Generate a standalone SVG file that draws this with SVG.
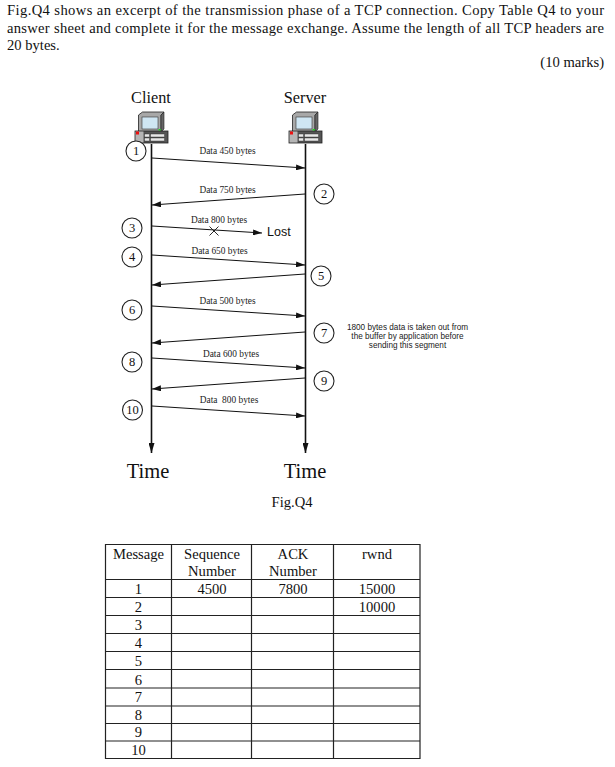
<svg xmlns="http://www.w3.org/2000/svg" xmlns:xlink="http://www.w3.org/1999/xlink" width="615" height="767" viewBox="0 0 615 767">
<style>
text{font-family:"Liberation Serif","Times New Roman",serif;fill:#111}
.body{font-size:14.6px}
.head{font-size:16.3px;text-anchor:middle}
.big{font-size:20.5px;text-anchor:middle}
.lab{font-size:9.4px;text-anchor:middle;fill:#222}
.num{font-size:12.5px;text-anchor:middle}
.cell{font-size:14.6px;text-anchor:middle}
.sans{font-family:"Liberation Sans",Arial,sans-serif}
.note{font-size:8.2px;text-anchor:middle;fill:#222}
.msg{stroke:#111;stroke-width:1;fill:none;marker-end:url(#ah)}
.life{stroke:#111;stroke-width:1.6;fill:none;marker-end:url(#ahl)}
.ring{fill:#fff;stroke:#222;stroke-width:1.1}
.grid{stroke:#222;stroke-width:1.2;fill:none}
</style>
<defs>
<marker id="ah" markerUnits="userSpaceOnUse" markerWidth="9" markerHeight="6" refX="9" refY="3" orient="auto"><path d="M0 0L9 3L0 6Z" fill="#111"/></marker>
<marker id="ahl" markerUnits="userSpaceOnUse" markerWidth="10" markerHeight="6" refX="10" refY="3" orient="auto"><path d="M0 0L10 3L0 6Z" fill="#111"/></marker>
<g id="pc">
<path d="M-13 -29L-9 -32H12.500L9.500 -29V-12H-13Z" fill="#a8a8a8" stroke="#222" stroke-width=".8"/>
<path d="M9.500 -29L12.500 -32V-15L9.500 -12Z" fill="#666" stroke="#222" stroke-width=".6"/>
<rect x="-9.500" y="-27" width="16" height="12" fill="#cfe6f3" stroke="#333" stroke-width=".6"/>
<rect x="-16.500" y="-13" width="33" height="12" fill="#555" stroke="#222" stroke-width=".8"/>
<rect x="-16" y="-12.500" width="8" height="11" fill="#b5b5b5"/>
<rect x="-15.500" y="-12.500" width="3" height="3" fill="#e11"/>
<rect x="7" y="-15" width="2.500" height="1.500" fill="#2c2"/>
<rect x="-7" y="-10" width="5" height="3" fill="#e8e8e8" stroke="#222" stroke-width=".4"/>
<rect x="-7" y="-6" width="5" height="3" fill="#e8e8e8" stroke="#222" stroke-width=".4"/>
<rect x="-1" y="-10" width="14" height="3" fill="#e8e8e8" stroke="#222" stroke-width=".4"/>
<rect x="-1" y="-6" width="14" height="3" fill="#e8e8e8" stroke="#222" stroke-width=".4"/>
</g>
</defs>
<rect width="615" height="767" fill="#fff"/>
<g id="question">
<text class="body" x="7" y="15" textLength="597" lengthAdjust="spacing">Fig.Q4 shows an excerpt of the transmission phase of a TCP connection. Copy Table Q4 to your</text>
<text class="body" x="7" y="33" textLength="597" lengthAdjust="spacing">answer sheet and complete it for the message exchange. Assume the length of all TCP headers are</text>
<text class="body" x="7" y="50">20 bytes.</text>
<text class="body" x="604" y="67" text-anchor="end">(10 marks)</text>
</g>
<g id="connectors">
<path class="life" d="M151.500 144V453"/>
<path class="life" d="M305.500 144V453"/>
<path class="msg" d="M152 158L305 168"/>
<path class="msg" d="M305 194L152 205"/>
<path class="msg" d="M152 226L262 233"/>
<path class="msg" d="M152 255L305 265"/>
<path class="msg" d="M305 274L152 285"/>
<path class="msg" d="M152 306L305 316"/>
<path class="msg" d="M305 332L152 343"/>
<path class="msg" d="M152 358L305 368"/>
<path class="msg" d="M305 378L152 389"/>
<path class="msg" d="M152 406L305 416"/>
</g>
<g id="client"><use href="#pc" xlink:href="#pc" x="151.500" y="144"/><text class="head" x="151" y="103">Client</text></g>
<g id="server"><use href="#pc" xlink:href="#pc" x="305.500" y="144"/><text class="head" x="305" y="103">Server</text></g>
<g id="lost-mark">
<path d="M209.500 226.500L218.500 235.500M218.500 226.500L209.500 235.500" stroke="#111" stroke-width=".9"/>
<text class="sans" x="267" y="236" font-size="12.500">Lost</text>
</g>
<g id="labels">
<text class="lab" x="227.500" y="154">Data 450 bytes</text>
<text class="lab" x="227.500" y="193">Data 750 bytes</text>
<text class="lab" x="219" y="223">Data 800 bytes</text>
<text class="lab" x="219.500" y="254">Data 650 bytes</text>
<text class="lab" x="227.500" y="304">Data 500 bytes</text>
<text class="lab" x="231" y="357">Data 600 bytes</text>
<text class="lab" x="229" y="403" xml:space="preserve">Data  800 bytes</text>
<text class="note sans" x="407.500" y="329.500">1800 bytes data is taken out from</text>
<text class="note sans" x="407.500" y="339">the buffer by application before</text>
<text class="note sans" x="407.500" y="348">sending this segment</text>
</g>
<g id="n1"><circle class="ring" cx="136" cy="151" r="10"/><text class="num" x="136" y="155">1</text></g>
<g id="n2"><circle class="ring" cx="324" cy="194" r="10"/><text class="num" x="324" y="198">2</text></g>
<g id="n3"><circle class="ring" cx="132" cy="228" r="10"/><text class="num" x="132" y="232">3</text></g>
<g id="n4"><circle class="ring" cx="132" cy="257" r="10"/><text class="num" x="132" y="261">4</text></g>
<g id="n5"><circle class="ring" cx="321" cy="276" r="10"/><text class="num" x="321" y="280">5</text></g>
<g id="n6"><circle class="ring" cx="132" cy="310" r="10"/><text class="num" x="132" y="314">6</text></g>
<g id="n7"><circle class="ring" cx="324" cy="333" r="10"/><text class="num" x="324" y="337">7</text></g>
<g id="n8"><circle class="ring" cx="132" cy="362" r="10"/><text class="num" x="132" y="366">8</text></g>
<g id="n9"><circle class="ring" cx="324" cy="381" r="10"/><text class="num" x="324" y="385">9</text></g>
<g id="n10"><circle class="ring" cx="132.500" cy="410" r="10"/><text class="num" x="132.500" y="414">10</text></g>
<g id="axis-labels">
<text class="big" x="148" y="478">Time</text>
<text class="big" x="305" y="478">Time</text>
<text class="cell" x="292" y="507">Fig.Q4</text>
</g>
<g id="table">
<path class="grid" d="M105.500 544.500H420V758.500H105.500ZM105.500 579.500H420M105.500 597.500H420M105.500 615.500H420M105.500 633.500H420M105.500 651.500H420M105.500 669.500H420M105.500 688H420M105.500 706H420M105.500 723.500H420M105.500 741H420M171.500 544.500V758.500M251.500 544.500V758.500M333.500 544.500V758.500"/>
<text class="cell" x="138.500" y="559">Message</text>
<text class="cell" x="212" y="559">Sequence</text>
<text class="cell" x="212" y="576">Number</text>
<text class="cell" x="293" y="559">ACK</text>
<text class="cell" x="293" y="576">Number</text>
<text class="cell" x="377" y="559">rwnd</text>
<text class="cell" x="138.500" y="594">1</text>
<text class="cell" x="212" y="594">4500</text>
<text class="cell" x="293" y="594">7800</text>
<text class="cell" x="377" y="594">15000</text>
<text class="cell" x="377" y="612">10000</text>
<text class="cell" x="138.500" y="612">2</text>
<text class="cell" x="138.500" y="630">3</text>
<text class="cell" x="138.500" y="648">4</text>
<text class="cell" x="138.500" y="666">5</text>
<text class="cell" x="138.500" y="685">6</text>
<text class="cell" x="138.500" y="702">7</text>
<text class="cell" x="138.500" y="720">8</text>
<text class="cell" x="138.500" y="737">9</text>
<text class="cell" x="138.500" y="755">10</text>
</g>
</svg>
